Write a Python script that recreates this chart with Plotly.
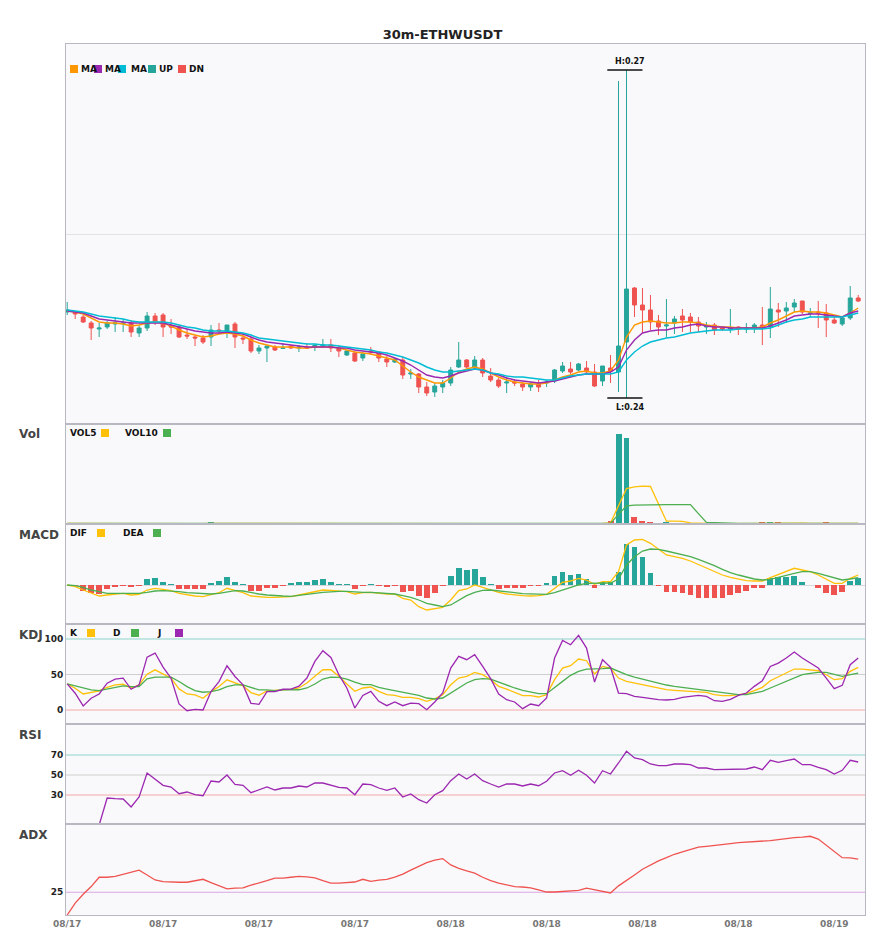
import plotly.graph_objects as go
from plotly.subplots import make_subplots

# 30m candles, 08/17 00:00 onward (100 bars)
OPEN = [0.24774, 0.24774, 0.24729, 0.24675, 0.24621, 0.24639, 0.24666, 0.24670, 0.24675, 0.24585,
        0.24630, 0.24738, 0.24747, 0.24648, 0.24639, 0.24567, 0.24549, 0.24540, 0.24549, 0.24612,
        0.24603, 0.24666, 0.24540, 0.24531, 0.24423, 0.24450, 0.24459, 0.24446, 0.24468, 0.24450,
        0.24459, 0.24459, 0.24468, 0.24477, 0.24450, 0.24387, 0.24405, 0.24360, 0.24423, 0.24414,
        0.24351, 0.24324, 0.24342, 0.24216, 0.24216, 0.24099, 0.24054, 0.24099, 0.24135, 0.24279,
        0.24342, 0.24279, 0.24342, 0.24198, 0.24162, 0.24135, 0.24144, 0.24126, 0.24099, 0.24126,
        0.24135, 0.24153, 0.24243, 0.24261, 0.24252, 0.24270, 0.24234, 0.24153, 0.24270, 0.24234,
        0.24504, 0.24990, 0.24837, 0.24792, 0.24693, 0.24648, 0.24675, 0.24738, 0.24729, 0.24684,
        0.24639, 0.24657, 0.24630, 0.24621, 0.24639, 0.24621, 0.24639, 0.24657, 0.24639, 0.24792,
        0.24783, 0.24819, 0.24873, 0.24761, 0.24774, 0.24765, 0.24702, 0.24666, 0.24720, 0.24900]
HIGH = [0.24864, 0.24783, 0.24747, 0.24693, 0.24675, 0.24693, 0.24729, 0.24711, 0.24702, 0.24657,
        0.24774, 0.24765, 0.24765, 0.24711, 0.24657, 0.24621, 0.24567, 0.24567, 0.24657, 0.24675,
        0.24657, 0.24684, 0.24576, 0.24549, 0.24477, 0.24468, 0.24477, 0.24495, 0.24477, 0.24477,
        0.24495, 0.24486, 0.24531, 0.24531, 0.24477, 0.24432, 0.24423, 0.24414, 0.24459, 0.24423,
        0.24378, 0.24360, 0.24369, 0.24261, 0.24225, 0.24144, 0.24135, 0.24162, 0.24279, 0.24504,
        0.24351, 0.24378, 0.24360, 0.24270, 0.24180, 0.24189, 0.24171, 0.24144, 0.24144, 0.24162,
        0.24162, 0.24261, 0.24324, 0.24324, 0.24315, 0.24333, 0.24306, 0.24288, 0.24387, 0.26853,
        0.26952, 0.24999, 0.24990, 0.24927, 0.24747, 0.24891, 0.24738, 0.24801, 0.24765, 0.24729,
        0.24684, 0.24675, 0.24639, 0.24801, 0.24648, 0.24675, 0.24675, 0.24819, 0.24999, 0.24855,
        0.24864, 0.24891, 0.24873, 0.24810, 0.24873, 0.24846, 0.24729, 0.24729, 0.25008, 0.24927]
LOW = [0.24747, 0.24711, 0.24675, 0.24522, 0.24549, 0.24621, 0.24594, 0.24594, 0.24549, 0.24549,
       0.24603, 0.24657, 0.24549, 0.24576, 0.24540, 0.24531, 0.24468, 0.24486, 0.24468, 0.24576,
       0.24540, 0.24450, 0.24486, 0.24405, 0.24396, 0.24324, 0.24423, 0.24441, 0.24441, 0.24414,
       0.24441, 0.24423, 0.24450, 0.24414, 0.24369, 0.24378, 0.24324, 0.24333, 0.24387, 0.24324,
       0.24279, 0.24315, 0.24171, 0.24171, 0.24045, 0.24018, 0.24009, 0.24045, 0.24108, 0.24270,
       0.24270, 0.24261, 0.24189, 0.24144, 0.24090, 0.24045, 0.24108, 0.24063, 0.24063, 0.24054,
       0.24099, 0.24135, 0.24225, 0.24216, 0.24243, 0.24225, 0.24099, 0.24108, 0.24135, 0.24054,
       0.24000, 0.24729, 0.24585, 0.24612, 0.24567, 0.24549, 0.24576, 0.24594, 0.24594, 0.24594,
       0.24576, 0.24567, 0.24603, 0.24585, 0.24567, 0.24585, 0.24585, 0.24477, 0.24540, 0.24639,
       0.24675, 0.24774, 0.24756, 0.24729, 0.24630, 0.24549, 0.24666, 0.24648, 0.24702, 0.24864]
CLOSE = [0.24792, 0.24756, 0.24684, 0.24630, 0.24630, 0.24675, 0.24675, 0.24675, 0.24594, 0.24630,
         0.24738, 0.24693, 0.24639, 0.24639, 0.24549, 0.24558, 0.24540, 0.24504, 0.24612, 0.24603,
         0.24657, 0.24549, 0.24531, 0.24423, 0.24450, 0.24468, 0.24432, 0.24450, 0.24450, 0.24459,
         0.24450, 0.24477, 0.24477, 0.24450, 0.24423, 0.24423, 0.24333, 0.24396, 0.24414, 0.24360,
         0.24324, 0.24351, 0.24207, 0.24225, 0.24099, 0.24045, 0.24108, 0.24135, 0.24252, 0.24342,
         0.24279, 0.24342, 0.24225, 0.24162, 0.24108, 0.24144, 0.24135, 0.24099, 0.24126, 0.24099,
         0.24144, 0.24252, 0.24288, 0.24234, 0.24306, 0.24234, 0.24108, 0.24288, 0.24243, 0.24468,
         0.24981, 0.24837, 0.24792, 0.24684, 0.24639, 0.24657, 0.24711, 0.24702, 0.24684, 0.24648,
         0.24648, 0.24612, 0.24621, 0.24630, 0.24621, 0.24630, 0.24657, 0.24630, 0.24801, 0.24774,
         0.24810, 0.24855, 0.24774, 0.24765, 0.24765, 0.24702, 0.24675, 0.24720, 0.24900, 0.24873]

MA_FAST = [0.24783, 0.24774, 0.24756, 0.24720, 0.24684, 0.24675, 0.24675, 0.24666, 0.24648, 0.24657,
           0.24675, 0.24684, 0.24675, 0.24648, 0.24612, 0.24585, 0.24567, 0.24549, 0.24558, 0.24576,
           0.24585, 0.24576, 0.24558, 0.24522, 0.24495, 0.24477, 0.24459, 0.24459, 0.24459, 0.24450,
           0.24450, 0.24459, 0.24459, 0.24459, 0.24450, 0.24432, 0.24414, 0.24405, 0.24396, 0.24378,
           0.24360, 0.24342, 0.24288, 0.24234, 0.24189, 0.24162, 0.24135, 0.24135, 0.24180, 0.24234,
           0.24261, 0.24279, 0.24261, 0.24225, 0.24189, 0.24162, 0.24144, 0.24135, 0.24126, 0.24126,
           0.24135, 0.24162, 0.24189, 0.24207, 0.24234, 0.24243, 0.24225, 0.24225, 0.24243, 0.24342,
           0.24549, 0.24657, 0.24684, 0.24693, 0.24684, 0.24675, 0.24675, 0.24684, 0.24684, 0.24675,
           0.24657, 0.24648, 0.24639, 0.24639, 0.24630, 0.24630, 0.24630, 0.24639, 0.24675, 0.24702,
           0.24738, 0.24774, 0.24783, 0.24774, 0.24774, 0.24765, 0.24747, 0.24729, 0.24765, 0.24810]
MA_MID = [0.24783, 0.24774, 0.24765, 0.24738, 0.24711, 0.24702, 0.24693, 0.24684, 0.24675, 0.24675,
          0.24675, 0.24675, 0.24675, 0.24657, 0.24639, 0.24621, 0.24603, 0.24594, 0.24585, 0.24585,
          0.24594, 0.24585, 0.24576, 0.24549, 0.24522, 0.24504, 0.24495, 0.24486, 0.24477, 0.24468,
          0.24459, 0.24459, 0.24459, 0.24459, 0.24450, 0.24450, 0.24432, 0.24423, 0.24414, 0.24405,
          0.24387, 0.24360, 0.24333, 0.24297, 0.24252, 0.24207, 0.24189, 0.24180, 0.24198, 0.24225,
          0.24243, 0.24261, 0.24252, 0.24225, 0.24207, 0.24180, 0.24162, 0.24153, 0.24144, 0.24135,
          0.24144, 0.24153, 0.24171, 0.24189, 0.24207, 0.24216, 0.24216, 0.24216, 0.24234, 0.24279,
          0.24432, 0.24522, 0.24585, 0.24603, 0.24612, 0.24612, 0.24630, 0.24639, 0.24657, 0.24666,
          0.24648, 0.24639, 0.24639, 0.24630, 0.24630, 0.24630, 0.24630, 0.24630, 0.24648, 0.24675,
          0.24702, 0.24738, 0.24747, 0.24756, 0.24756, 0.24747, 0.24738, 0.24729, 0.24765, 0.24783]
MA_SLOW = [0.24792, 0.24783, 0.24774, 0.24756, 0.24738, 0.24729, 0.24720, 0.24711, 0.24693, 0.24684,
           0.24684, 0.24684, 0.24684, 0.24675, 0.24657, 0.24639, 0.24630, 0.24612, 0.24603, 0.24603,
           0.24603, 0.24594, 0.24585, 0.24567, 0.24540, 0.24531, 0.24522, 0.24513, 0.24504, 0.24495,
           0.24486, 0.24486, 0.24477, 0.24477, 0.24468, 0.24459, 0.24450, 0.24441, 0.24432, 0.24414,
           0.24405, 0.24387, 0.24369, 0.24342, 0.24315, 0.24279, 0.24252, 0.24234, 0.24234, 0.24243,
           0.24252, 0.24261, 0.24252, 0.24225, 0.24216, 0.24198, 0.24189, 0.24189, 0.24180, 0.24171,
           0.24162, 0.24162, 0.24180, 0.24198, 0.24207, 0.24216, 0.24216, 0.24216, 0.24216, 0.24234,
           0.24342, 0.24414, 0.24468, 0.24504, 0.24522, 0.24540, 0.24549, 0.24567, 0.24585, 0.24594,
           0.24603, 0.24612, 0.24612, 0.24612, 0.24621, 0.24621, 0.24621, 0.24621, 0.24630, 0.24657,
           0.24684, 0.24702, 0.24711, 0.24729, 0.24729, 0.24729, 0.24729, 0.24729, 0.24747, 0.24765]

VOLUME = [5000, 4000, 4500, 6000, 3500, 3000, 4000, 3500, 5000, 4000,
          6000, 4500, 5000, 3500, 4000, 3000, 3500, 4000, 20000, 4500,
          5000, 6000, 3500, 5500, 4000, 4500, 3000, 2500, 3000, 3500,
          3000, 3500, 4000, 4500, 4000, 3000, 4500, 3500, 3000, 3500,
          3500, 2500, 5000, 4000, 6000, 5500, 4500, 4000, 5000, 6500,
          4000, 4500, 5000, 4000, 3500, 3000, 2500, 3000, 2500, 3000,
          2500, 4500, 4000, 3500, 3000, 3500, 6000, 7000, 30000, 900000,
          860000, 70000, 30000, 15000, 6000, 17000, 5000, 6000, 6000, 4000,
          3500, 3000, 2500, 10000, 3000, 3500, 4000, 12000, 12000, 12000,
          4000, 4500, 5000, 3000, 4000, 12000, 5000, 4000, 7000, 5000]
VOL5 = [5000, 4500, 4500, 4900, 4600, 4200, 4200, 4200, 4000, 3900,
        4500, 4600, 4600, 4600, 4600, 4200, 4000, 3600, 6900, 7000,
        7400, 7900, 7800, 7900, 7800, 4900, 4500, 4200, 3500, 3300,
        3200, 3100, 3400, 3700, 3800, 3800, 4000, 3900, 3700, 3500,
        3400, 3300, 3400, 3500, 4200, 4600, 4700, 5000, 5000, 5200,
        5200, 4800, 4900, 4700, 4200, 4000, 3600, 3300, 2800, 2700,
        2700, 3100, 3300, 3500, 3500, 3600, 4100, 4900, 9900, 189000,
        355000, 372000, 378000, 375000, 196000, 28000, 29000, 27000, 12000, 8000,
        5000, 4500, 4200, 5400, 4600, 4000, 4600, 6200, 7700, 8800,
        8800, 9000, 9000, 7000, 5000, 5500, 5800, 5600, 6600, 6600]
VOL10 = [5000, 4700, 4500, 4700, 4600, 4400, 4300, 4200, 4300, 4200,
         4300, 4400, 4400, 4400, 4300, 4200, 4300, 4000, 5600, 5600,
         5900, 6000, 5600, 5700, 5700, 5900, 5800, 5700, 5200, 4800,
         4600, 4400, 4000, 3800, 3500, 3400, 3500, 3700, 3700, 3600,
         3500, 3500, 3500, 3600, 4000, 4100, 4200, 4400, 4600, 5000,
         5000, 5000, 5000, 5000, 5000, 5000, 4700, 4300, 4000, 3900,
         3800, 3700, 3600, 3500, 3200, 3200, 3600, 4000, 6700, 96000,
         181000, 188000, 191000, 192000, 192000, 193000, 193000, 194000, 194000, 104000,
         16000, 14000, 9700, 6500, 6000, 5300, 5100, 6100, 6500, 6700,
         6300, 6500, 6700, 6200, 6300, 6800, 6900, 7000, 7700, 7000]

DIF = [0.0, -0.000017, -0.00005, -0.000083, -0.00011, -0.0001, -0.00009, -0.000083, -0.0001, -0.000093,
       -0.00005, -0.000033, -0.000043, -0.000057, -0.000083, -0.0001, -0.00011, -0.000117, -0.0001, -0.000077,
       -0.000033, -0.000057, -0.000077, -0.00011, -0.000117, -0.000123, -0.000123, -0.000123, -0.000117, -0.0001,
       -0.000083, -0.00006, -0.00005, -0.000053, -0.00006, -0.000067, -0.00009, -0.000077, -0.000073, -0.000083,
       -0.00009, -0.00009, -0.000133, -0.00015, -0.000217, -0.00025, -0.00024, -0.000223, -0.00015, -0.000057,
       -0.00004, 0.0, -0.000023, -0.00005, -0.000073, -0.00009, -0.0001, -0.000107, -0.00011, -0.000107,
       -0.000093, -0.000033, 0.000027, 0.00004, 0.000067, 0.00005, 0.000007, 0.000033, 0.000033, 0.000133,
       0.0004, 0.00045, 0.000457, 0.000417, 0.00036, 0.0003, 0.000283, 0.000267, 0.00024, 0.000207,
       0.000173, 0.000133, 0.0001, 0.000077, 0.000057, 0.000043, 0.00004, 0.00004, 0.000073, 0.000107,
       0.000133, 0.000167, 0.00015, 0.000133, 0.0001, 0.000057, 0.000017, 0.000017, 0.000067, 0.0001]
DEA = [0.0, -0.000007, -0.000023, -0.00005, -0.000067, -0.000083, -0.000083, -0.000083, -0.00009, -0.000083,
       -0.000073, -0.00006, -0.000057, -0.00006, -0.000067, -0.000077, -0.000083, -0.00009, -0.00009, -0.000083,
       -0.000067, -0.000057, -0.00006, -0.000077, -0.00009, -0.0001, -0.000107, -0.00011, -0.000113, -0.000105,
       -0.000093, -0.000083, -0.000073, -0.000067, -0.000063, -0.000063, -0.00007, -0.000073, -0.000073, -0.000077,
       -0.000083, -0.00009, -0.000107, -0.000123, -0.00015, -0.000183, -0.0002, -0.000217, -0.0002, -0.00015,
       -0.000107, -0.000073, -0.000053, -0.00005, -0.000057, -0.000067, -0.000077, -0.000087, -0.00009, -0.000093,
       -0.000093, -0.000077, -0.00005, -0.000027, 0.0, 0.000017, 0.00002, 0.000023, 0.00002, 0.00006,
       0.0002, 0.000283, 0.00034, 0.00036, 0.000357, 0.00034, 0.000323, 0.000307, 0.000283, 0.000257,
       0.000227, 0.000193, 0.000157, 0.000123, 0.0001, 0.000077, 0.00006, 0.00005, 0.000057, 0.000077,
       0.0001, 0.000117, 0.000133, 0.000133, 0.000117, 0.000093, 0.000067, 0.00005, 0.00006, 0.000073]
MACD_HIST = [0.0, -0.000005, -0.000057, -0.000083, -0.00009, -0.00004, -0.000017, -0.000003, -0.000013, -0.00001,
             0.00006, 0.00007, 0.00003, 0.00001, -0.00004, -0.00004, -0.00004, -0.00004, 0.00002, 0.00004,
             0.00008, 0.00003, 0.000003, -0.00006, -0.00006, -0.000027, -0.000027, -0.000007, 0.00002, 0.00003,
             0.00003, 0.00005, 0.00006, 0.00003, 0.000007, 0.000007, -0.000037, -0.000003, 0.000007, -0.000007,
             -0.000013, -0.000007, -0.000067, -0.000057, -0.000107, -0.000127, -0.000077, -0.000007, 0.00009, 0.000167,
             0.00015, 0.00016, 0.00008, 0.000007, -0.000037, -0.00003, -0.00003, -0.00003, -0.000007, -0.000007,
             0.00002, 0.00009, 0.00013, 0.0001, 0.00011, 0.000057, -0.000027, 0.000033, 0.000033, 0.00013,
             0.00041, 0.000377, 0.00028, 0.00012, -0.000007, -0.000067, -0.000067, -0.000083, -0.0001, -0.000127,
             -0.000127, -0.000133, -0.000127, -0.0001, -0.000077, -0.000057, -0.000033, -0.000033, 0.000067, 0.000083,
             0.000083, 0.00009, 0.00003, 0.0, -0.000033, -0.000083, -0.0001, -0.000067, 0.000043, 0.000073]

K = [36.8, 30.7, 22.6, 24.5, 26.9, 32.0, 35.4, 36.3, 30.7, 35.4,
     50.5, 56.6, 51.0, 44.8, 29.7, 22.6, 21.2, 16.5, 25.9, 33.0,
     42.5, 38.7, 34.0, 24.5, 20.8, 26.9, 27.4, 28.3, 29.0, 31.0,
     38.0, 47.4, 56.7, 56.7, 47.4, 36.6, 26.3, 31.0, 32.4, 26.3,
     21.6, 20.6, 17.8, 17.8, 15.9, 12.2, 15.9, 21.6, 35.6, 45.0,
     47.4, 53.0, 49.7, 42.7, 33.3, 29.5, 24.9, 20.2, 20.2, 18.3,
     21.6, 42.7, 59.1, 62.4, 71.8, 69.4, 50.7, 61.4, 59.1, 45.0,
     40.3, 38.0, 35.6, 33.3, 31.0, 28.6, 27.7, 27.2, 26.3, 26.3,
     24.9, 21.6, 20.2, 20.2, 21.6, 23.0, 27.2, 31.9, 41.3, 46.4,
     52.0, 57.7, 57.7, 56.7, 55.3, 49.7, 42.7, 44.1, 54.4, 60.0]
D = [36.8, 34.0, 31.6, 28.3, 27.4, 29.7, 31.6, 34.0, 33.0, 33.0,
     43.9, 46.2, 46.2, 46.2, 40.1, 33.0, 27.4, 25.0, 25.9, 28.3,
     33.0, 35.4, 35.4, 31.6, 28.3, 28.3, 27.4, 28.3, 28.2, 28.5,
     31.0, 36.6, 43.6, 46.4, 46.0, 43.6, 39.4, 35.6, 35.6, 31.9,
     29.5, 27.2, 24.9, 23.0, 20.6, 16.9, 15.5, 16.9, 23.9, 31.9,
     38.0, 42.7, 44.1, 43.6, 39.4, 34.7, 31.0, 27.7, 24.9, 23.0,
     23.0, 31.0, 40.3, 48.8, 54.4, 57.7, 57.7, 58.2, 59.1, 54.4,
     49.7, 46.4, 43.6, 40.3, 38.0, 35.2, 33.3, 31.9, 30.0, 28.6,
     27.2, 25.3, 23.9, 22.5, 21.6, 21.6, 23.9, 26.3, 31.0, 35.6,
     40.3, 44.6, 49.7, 51.6, 53.0, 53.0, 50.2, 47.4, 49.7, 52.0]
J = [36.8, 23.6, 5.7, 16.5, 22.6, 37.7, 43.4, 44.8, 29.2, 35.4,
     74.5, 80.2, 60.4, 44.8, 8.5, -1.0, 1.0, 0.0, 25.9, 40.1,
     62.3, 47.2, 35.4, 9.4, 8.0, 25.9, 25.9, 29.2, 29.4, 33.5,
     45.0, 68.5, 83.5, 74.0, 49.7, 31.0, 2.8, 20.6, 26.3, 12.2,
     6.1, 11.3, 6.1, 9.8, 8.9, 0.5, 11.3, 23.9, 59.0, 75.5,
     70.8, 77.9, 61.4, 44.1, 22.5, 14.5, 11.3, 1.9, 8.4, 6.1,
     16.9, 73.2, 98.0, 91.9, 105.0, 87.2, 39.4, 70.8, 60.0, 23.9,
     23.0, 19.2, 17.8, 15.9, 14.5, 14.1, 15.0, 17.8, 19.2, 20.6,
     19.2, 13.1, 12.2, 15.0, 20.6, 23.9, 33.3, 41.3, 61.4, 66.1,
     73.2, 81.6, 73.2, 66.1, 59.1, 45.0, 30.0, 34.7, 63.8, 73.2]

RSI = [None, None, None, None, 0.0, 27.0, 26.3, 26.0, 18.0, 28.0,
       52.0, 46.0, 39.7, 38.0, 31.3, 33.0, 30.3, 29.3, 44.0, 43.0,
       50.0, 40.7, 39.7, 32.3, 35.3, 38.0, 35.0, 37.0, 37.0, 39.0,
       38.0, 42.0, 42.0, 39.7, 37.7, 37.0, 30.3, 41.0, 40.3, 37.0,
       34.7, 37.0, 28.0, 31.0, 25.3, 22.0, 30.3, 34.3, 44.3, 51.0,
       46.0, 51.0, 44.3, 41.0, 38.0, 41.0, 41.0, 39.0, 41.0, 39.3,
       43.7, 52.0, 54.3, 49.7, 54.7, 49.7, 42.0, 54.3, 51.0, 62.0,
       73.7, 67.0, 65.3, 61.0, 59.3, 59.3, 61.0, 61.0, 60.3, 57.0,
       57.0, 55.3, 55.3, 56.0, 56.0, 56.0, 58.0, 55.3, 64.7, 62.7,
       64.3, 66.0, 60.3, 60.3, 57.7, 55.3, 51.0, 54.7, 64.7, 63.0]

ADX = [15.0, 20.2, 24.1, 27.5, 31.6, 31.6, 32.0, 32.9, 33.8, 34.7,
       32.6, 30.4, 29.7, 29.4, 29.4, 29.4, 30.1, 30.7, 29.2, 27.8,
       26.5, 26.8, 26.9, 28.1, 29.0, 30.1, 31.2, 31.2, 31.6, 32.0,
       31.8, 31.3, 30.1, 29.0, 29.0, 29.2, 29.5, 30.7, 29.8, 30.3,
       30.7, 31.7, 33.0, 34.7, 36.4, 38.0, 39.1, 39.8, 37.0, 35.5,
       34.4, 33.4, 31.6, 30.1, 29.0, 28.2, 27.5, 27.3, 26.9, 26.0,
       25.1, 25.1, 25.4, 25.7, 25.8, 26.8, 26.0, 25.3, 24.7, 27.8,
       30.1, 32.6, 35.1, 37.0, 38.8, 40.2, 41.7, 42.8, 43.9, 44.8,
       45.2, 45.7, 46.1, 46.4, 46.8, 47.0, 47.0, 47.2, 47.7, 48.1,
       48.6, 49.0, 49.2, 49.6, 48.4, 45.8, 42.8, 40.2, 40.1, 39.6]

TICK_POS = [0, 12, 24, 36, 48, 60, 72, 84, 96]
TICK_LABELS = ["08/17", "08/17", "08/17", "08/17", "08/18", "08/18", "08/18", "08/18", "08/19"]

UP, DN = "#26a69a", "#ef5350"
C_MA1, C_MA2, C_MA3 = "#ff9800", "#9c27b0", "#00bcd4"
C_Y, C_G, C_P = "#ffc107", "#4caf50", "#9c27b0"
FRAME = "#b8b8c2"

x = list(range(len(CLOSE)))
bar_col = [UP if c >= o else DN for o, c in zip(OPEN, CLOSE)]
hist_col = [UP if h >= 0 else DN for h in MACD_HIST]

fig = make_subplots(rows=6, cols=1, shared_xaxes=True, vertical_spacing=0,
                    row_heights=[380, 100, 100, 100, 100, 91])

fig.add_trace(go.Candlestick(
    x=x, open=OPEN, high=HIGH, low=LOW, close=CLOSE,
    increasing=dict(line=dict(color=UP, width=1), fillcolor=UP),
    decreasing=dict(line=dict(color=DN, width=1), fillcolor=DN),
    hoverinfo="skip"), row=1, col=1)
for s, c in [(MA_FAST, C_MA1), (MA_MID, C_MA2), (MA_SLOW, C_MA3)]:
    fig.add_trace(go.Scatter(x=x, y=s, mode="lines", line=dict(color=c, width=1.4)), row=1, col=1)

fig.add_trace(go.Bar(x=x, y=VOLUME, marker_color=bar_col, marker_line_width=0, width=0.75), row=2, col=1)
fig.add_trace(go.Scatter(x=x, y=VOL5, mode="lines", line=dict(color=C_Y, width=1.3)), row=2, col=1)
fig.add_trace(go.Scatter(x=x, y=VOL10, mode="lines", line=dict(color=C_G, width=1.3)), row=2, col=1)

fig.add_trace(go.Bar(x=x, y=MACD_HIST, marker_color=hist_col, marker_line_width=0, width=0.72), row=3, col=1)
fig.add_trace(go.Scatter(x=x, y=DIF, mode="lines", line=dict(color=C_Y, width=1.3)), row=3, col=1)
fig.add_trace(go.Scatter(x=x, y=DEA, mode="lines", line=dict(color=C_G, width=1.3)), row=3, col=1)

for s, c in [(K, C_Y), (D, C_G), (J, C_P)]:
    fig.add_trace(go.Scatter(x=x, y=s, mode="lines", line=dict(color=c, width=1.3)), row=4, col=1)

fig.add_trace(go.Scatter(x=x, y=RSI, mode="lines", line=dict(color=C_P, width=1.3)), row=5, col=1)
fig.add_trace(go.Scatter(x=x, y=ADX, mode="lines", line=dict(color=DN, width=1.3)), row=6, col=1)

# reference lines
for yv, c in [(100, "#8fd3c9"), (50, "#cfcfcf"), (0, "#f4a7a7")]:
    fig.add_hline(y=yv, line=dict(color=c, width=1), row=4, col=1, layer="below")
for yv, c in [(70, "#8fd3c9"), (50, "#cfcfcf"), (30, "#f4a7a7")]:
    fig.add_hline(y=yv, line=dict(color=c, width=1), row=5, col=1, layer="below")
fig.add_hline(y=25, line=dict(color="#d9a8e2", width=1), row=6, col=1, layer="below")

# high / low markers
hi = max(HIGH)
lo = min(LOW)
i_hi = HIGH.index(hi)
i_lo = LOW.index(lo)
for xi, yv, txt, anchor, shift in [(i_hi, hi, f"H:{hi:.2f}", "bottom", 2),
                                    (i_lo, lo, f"L:{lo:.2f}", "top", -3)]:
    fig.add_shape(type="line", x0=xi - 2.4, x1=xi + 2.0, y0=yv, y1=yv,
                  line=dict(color="#111", width=1.5), row=1, col=1)
    fig.add_annotation(x=xi + 0.5, y=yv, text=f"<b>{txt}</b>", showarrow=False,
                       yanchor=anchor, yshift=shift, font=dict(size=8, color="#111"),
                       row=1, col=1)

# page pixel helpers (page has an 8px body margin)
L_PX, T_PX, W_PX, H_PX = 66, 44, 799, 871


def px(xp):
    return (xp - L_PX) / W_PX


def py(yp):
    return (T_PX + H_PX - yp) / H_PX


panel_labels = [("Vol", 434), ("MACD", 535), ("KDJ", 635), ("RSI", 735), ("ADX", 835)]
for txt, yp in panel_labels:
    fig.add_annotation(xref="paper", yref="paper", x=px(17), y=py(yp), text=f"<b>{txt}</b>",
                       showarrow=False, xanchor="left", yanchor="middle",
                       font=dict(size=12, color="#444"))

legend_rows = [
    (69, [("MA", 81, C_MA1, 70), ("MA", 105, C_MA2, 94), ("MA", 131, C_MA3, 118),
          ("UP", 159, UP, 148), ("DN", 189, DN, 178)]),
    (433, [("VOL5", 70, C_Y, 101), ("VOL10", 125, C_G, 163)]),
    (533, [("DIF", 70, C_Y, 97), ("DEA", 123, C_G, 153)]),
    (633, [("K", 70, C_Y, 87), ("D", 113, C_G, 131), ("J", 157, C_P, 175)]),
]
for yp, items in legend_rows:
    for txt, xt, col, xs in items:
        fig.add_shape(type="rect", xref="paper", yref="paper",
                      x0=px(xs), x1=px(xs + 8), y0=py(yp + 4), y1=py(yp - 4),
                      fillcolor=col, line=dict(width=0), layer="above")
        fig.add_annotation(xref="paper", yref="paper", x=px(xt), y=py(yp), text=f"<b>{txt}</b>",
                           showarrow=False, xanchor="left", yanchor="middle", xshift=-2,
                           font=dict(size=9, color="#111"))

fig.update_xaxes(range=[-0.15, 99.85], showgrid=False, zeroline=False, showline=True,
                 mirror=True, linecolor=FRAME, linewidth=1, ticks="", showticklabels=False,
                 rangeslider_visible=False)
fig.update_xaxes(row=6, col=1, showticklabels=True, tickvals=TICK_POS,
                 ticktext=[f"<b>{t}</b>" for t in TICK_LABELS],
                 tickfont=dict(size=9, color="#777"))
fig.update_yaxes(showgrid=False, zeroline=False, showline=True, mirror=True,
                 linecolor=FRAME, linewidth=1, ticks="", showticklabels=False)

price_lo = 0.23766
price_hi = 0.27186
fig.update_yaxes(row=1, col=1, range=[price_lo, price_hi], showgrid=True, gridcolor="#e2e2e6",
                 tickvals=[(price_lo + price_hi) / 2])
fig.update_yaxes(row=2, col=1, range=[0, 1000000])
fig.update_yaxes(row=3, col=1, range=[-0.00039, 0.00061], zeroline=True,
                 zerolinecolor="#d9d9dd", zerolinewidth=1)
tick_font = dict(size=9, color="#222")
fig.update_yaxes(row=4, col=1, range=[-19.7, 121.1], showticklabels=True,
                 tickvals=[0, 50, 100], ticktext=["<b>0</b>", "<b>50</b>", "<b>100</b>"],
                 tickfont=tick_font)
fig.update_yaxes(row=5, col=1, range=[1, 101], showticklabels=True,
                 tickvals=[30, 50, 70], ticktext=["<b>30</b>", "<b>50</b>", "<b>70</b>"],
                 tickfont=tick_font)
fig.update_yaxes(row=6, col=1, range=[15, 55], showticklabels=True,
                 tickvals=[25], ticktext=["<b>25</b>"], tickfont=tick_font)

fig.update_layout(
    width=869, height=934,
    margin=dict(l=58, r=12, t=36, b=27),
    paper_bgcolor="white", plot_bgcolor="#f9f9fb",
    font=dict(family="DejaVu Sans", color="#222"),
    showlegend=False, bargap=0,
    title=dict(text="<b>30m-ETHWUSDT</b>", x=0.5, xanchor="center", y=1 - 26 / 934,
               yanchor="middle", font=dict(size=13, color="#222")),
)

fig.write_html("out.html")
